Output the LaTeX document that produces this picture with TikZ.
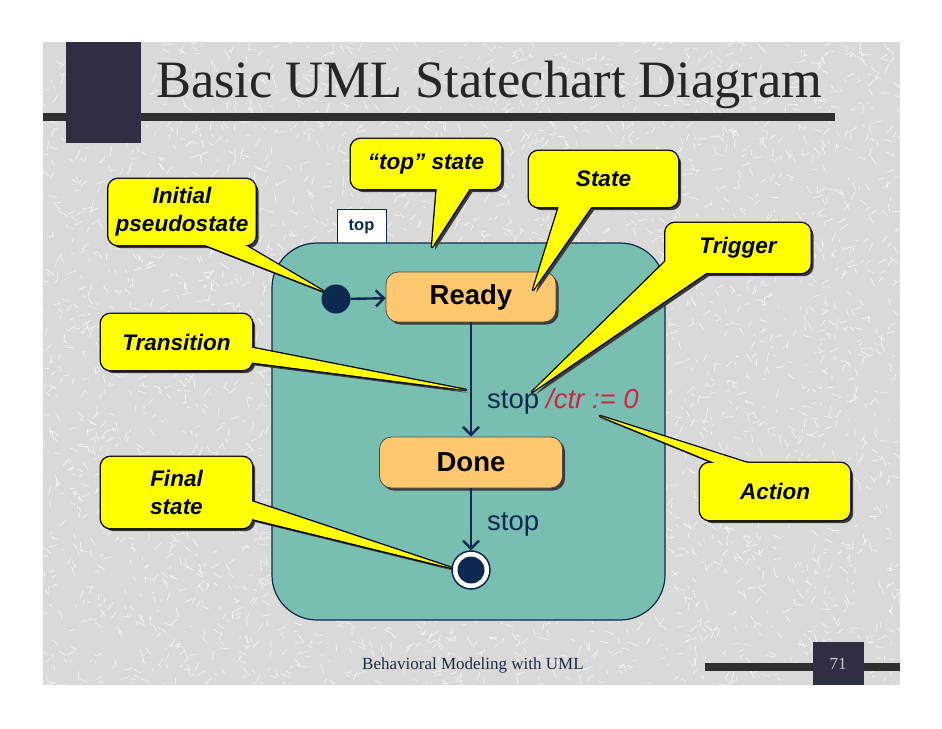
\documentclass[tikz,border=0pt]{standalone}
\usepackage{fontspec}
\setmainfont{Liberation Serif}
\newfontfamily\arialf{Liberation Sans}
\usetikzlibrary{arrows.meta,calc,shadows}
\pgfdeclarelayer{bgl}\pgfdeclarelayer{diag}\pgfdeclarelayer{cshadow}\pgfdeclarelayer{coutline}\pgfdeclarelayer{cfill}
\pgfsetlayers{bgl,diag,cshadow,coutline,cfill,main}
\definecolor{slidebg}{HTML}{D9D9D9}
\definecolor{barc}{HTML}{2E2F42}
\definecolor{rulec}{HTML}{303030}
\definecolor{tealc}{HTML}{79BFB1}
\definecolor{navyc}{HTML}{0C2A50}
\definecolor{orangec}{HTML}{FDC86E}
\definecolor{calloutc}{HTML}{FFFF00}
\definecolor{redc}{HTML}{D42240}
\definecolor{shadowc}{HTML}{3A3A3A}
\definecolor{footc}{HTML}{1E2A40}
\definecolor{titlec}{HTML}{262626}
\tikzset{
  calloutbox/.style={inner sep=0pt, align=center, font=\arialf\bfseries\itshape\fontsize{22.5}{28}\selectfont, text=black},
  statebox/.style={draw=black!70, line width=0.8pt, fill=orangec, rounded corners=12pt, inner sep=0pt,
     font=\arialf\bfseries\fontsize{27.5}{27.5}\selectfont, text=black,
     drop shadow={shadow xshift=2.5pt, shadow yshift=-2.5pt, fill=shadowc, opacity=1}},
  trans/.style={navyc, line width=2.4pt, -{Straight Barb[length=8pt,width=16pt]}},
  lbl/.style={anchor=base west, inner sep=0pt, font=\arialf\fontsize{27.5}{27.5}\selectfont, text=navyc}
}
\newcommand\mkpointer[4]{%
 \begin{pgfonlayer}{cshadow}
  \begin{scope}[transform canvas={shift={(3pt,-3pt)}}]
   \fill[shadowc,rounded corners=10pt] (#1.south west) rectangle (#1.north east);
   \fill[shadowc] (#2) -- (#4) -- (#3) -- cycle;
  \end{scope}
 \end{pgfonlayer}
 \begin{pgfonlayer}{coutline}
   \draw[black,line width=2.6pt,rounded corners=10pt] (#1.south west) rectangle (#1.north east);
   \draw[black,line width=2.6pt,line join=round] (#2) -- (#4) -- (#3) -- cycle;
 \end{pgfonlayer}
 \begin{pgfonlayer}{cfill}
   \fill[calloutc,rounded corners=10pt] (#1.south west) rectangle (#1.north east);
   \fill[calloutc] (#2) -- (#4) -- (#3) -- cycle;
 \end{pgfonlayer}
}
\begin{document}
\begin{tikzpicture}[x=1pt,y=-1pt]
\useasboundingbox (0,0) rectangle (942,728);
% background slide
\begin{pgfonlayer}{bgl}
\fill[white] (0,0) rectangle (942,728);
\fill[slidebg] (43,42) rectangle (900,685);
\begin{scope}
\clip (43,42) rectangle (900,685);
\pgfmathsetseed{42}
\foreach \i in {1,...,4200}{
  \pgfmathsetmacro\xx{43+857*rnd}
  \pgfmathsetmacro\yy{42+643*rnd}
  \pgfmathsetmacro\aa{360*rnd}
  \pgfmathsetmacro\ll{3+7*rnd}
  \draw[white, line width=0.7pt, opacity=0.7] (\xx,\yy) -- ++(\aa:\ll);
}
\end{scope}
\fill[rulec] (43,113) rectangle (835,121);
\fill[barc] (66,42) rectangle (141,143);
\fill[rulec] (705,663) rectangle (900,671);
\fill[barc] (813,642) rectangle (864,685);
\end{pgfonlayer}
\node[anchor=base west, inner sep=0pt, font=\fontsize{52.5}{52.5}\selectfont, text=titlec] (title) at (156,97) {Basic UML Statechart Diagram};
\node[anchor=base west, inner sep=0pt, font=\fontsize{17}{17}\selectfont, text=footc] (foot) at (362,669) {Behavioral Modeling with UML};
\node[inner sep=0pt, font=\fontsize{17}{17}\selectfont, text=black!20] (pnum) at (838,664) {71};
% diagram
\begin{pgfonlayer}{diag}
\node[draw=navyc, fill=white, line width=0.8pt, minimum width=49pt, minimum height=36pt, inner sep=0pt,
      font=\arialf\bfseries\fontsize{16.5}{16.5}\selectfont, text=navyc, text depth=0pt] (tab) at (361.5,227) {\raisebox{4pt}{top}};
\node[draw=navyc, fill=tealc, line width=1.2pt, rounded corners=45pt, minimum width=393pt, minimum height=377pt, inner sep=0pt] (topstate) at (468.5,431.5) {};
\node[statebox, minimum width=170pt, minimum height=50pt] (ready) at (471,297) {Ready};
\node[statebox, minimum width=183pt, minimum height=51pt] (done) at (471,462.5) {Done};
\node[circle, fill=navyc, minimum size=29pt, inner sep=0pt] (init) at (336,299) {};
\node[circle, draw=navyc, fill=white, line width=1.5pt, minimum size=38pt, inner sep=0pt] (final) at (471,570) {};
\node[circle, fill=navyc, minimum size=27pt, inner sep=0pt] (finalin) at (final.center) {};
\draw[trans] (init) -- (ready);
\draw[trans] (ready) -- (done);
\draw[trans] (done) -- (final);
\node[lbl] (lbl1) at (487,408) {stop\kern7pt\textcolor{redc}{\itshape /ctr := 0}};
\node[lbl] (lbl2) at (487,530) {stop};
\end{pgfonlayer}
% callouts
\node[calloutbox, minimum width=147pt, minimum height=66pt] (cInit) at (182,212) {Initial\\pseudostate};
\mkpointer{cInit}{195,241}{238,241}{323,291}
\node[calloutbox, minimum width=150pt, minimum height=50pt] (cTop) at (426,164) {“top” state};
\mkpointer{cTop}{437,185}{472,185}{432,247}
\node[calloutbox, minimum width=149pt, minimum height=56pt] (cState) at (603.5,179) {State};
\mkpointer{cState}{560,203}{594,203}{533,290}
\node[calloutbox, minimum width=145pt, minimum height=50pt] (cTrig) at (738,248) {Trigger};
\mkpointer{cTrig}{669,258}{712,269}{532,392}
\node[calloutbox, minimum width=151pt, minimum height=56pt] (cTrans) at (176.5,342) {Transition};
\mkpointer{cTrans}{248,347}{248,362}{466,390}
\node[calloutbox, minimum width=151pt, minimum height=71pt] (cFinal) at (176.5,492.5) {Final\\state};
\mkpointer{cFinal}{248,500}{248,518}{452,568}
\node[calloutbox, minimum width=150pt, minimum height=57pt] (cAct) at (775,491.5) {Action};
\mkpointer{cAct}{725,467}{760,467}{600,416}
\end{tikzpicture}
\end{document}
